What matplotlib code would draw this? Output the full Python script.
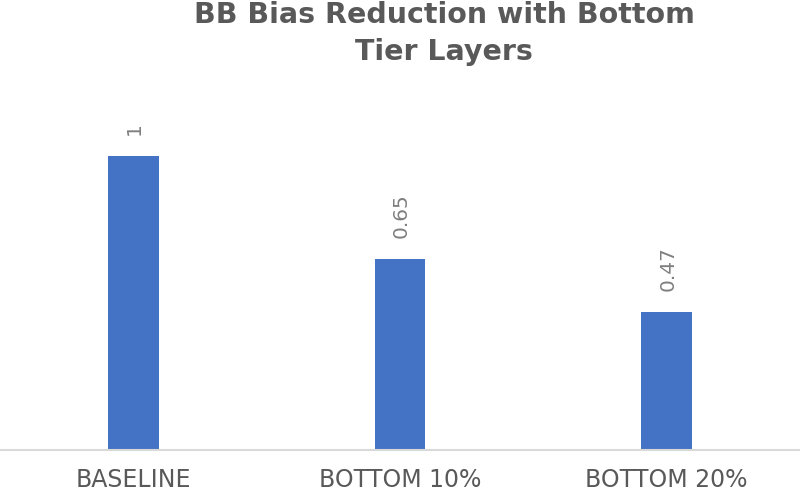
import matplotlib
matplotlib.use("Agg")
import matplotlib.pyplot as plt

categories = ["BASELINE", "BOTTOM 10%", "BOTTOM 20%"]
values = [1, 0.65, 0.47]
value_labels = ["1", "0.65", "0.47"]
title = "BB Bias Reduction with Bottom\nTier Layers"

bar_color = "#4472C4"
plt.rcParams['font.family'] = ['DejaVu Sans']

fig = plt.figure(figsize=(8, 4.94), dpi=100)
# axes pinned to the pixel layout of the reference (axis line at y=450px)
ax = fig.add_axes([0, 44 / 494, 1, 353 / 494])

x = range(len(categories))
bars = ax.bar(x, values, width=0.19, color=bar_color)

for b, lab in zip(bars, value_labels):
    ax.annotate(lab, (b.get_x() + b.get_width() / 2, b.get_height()),
                xytext=(1, 15), textcoords="offset points",
                rotation=90, ha="center", va="bottom",
                fontsize=14.5, color="#7f7f7f")

ax.set_xlim(-0.5, 2.5)
ax.set_ylim(0, 1.2)
ax.set_xticks(list(x))
ax.set_xticklabels(categories, fontsize=17, color="#595959")
ax.tick_params(axis="x", length=0, pad=13)
ax.set_yticks([])
for s in ["top", "left", "right"]:
    ax.spines[s].set_visible(False)
ax.spines["bottom"].set_color("#d9d9d9")
ax.spines["bottom"].set_linewidth(1.5)

fig.text(444 / 800, 1 - 1 / 494, title, ha="center", va="top",
         fontsize=20.5, fontweight="bold", color="#595959", linespacing=1.4)

fig.savefig("out.png", dpi=100)
